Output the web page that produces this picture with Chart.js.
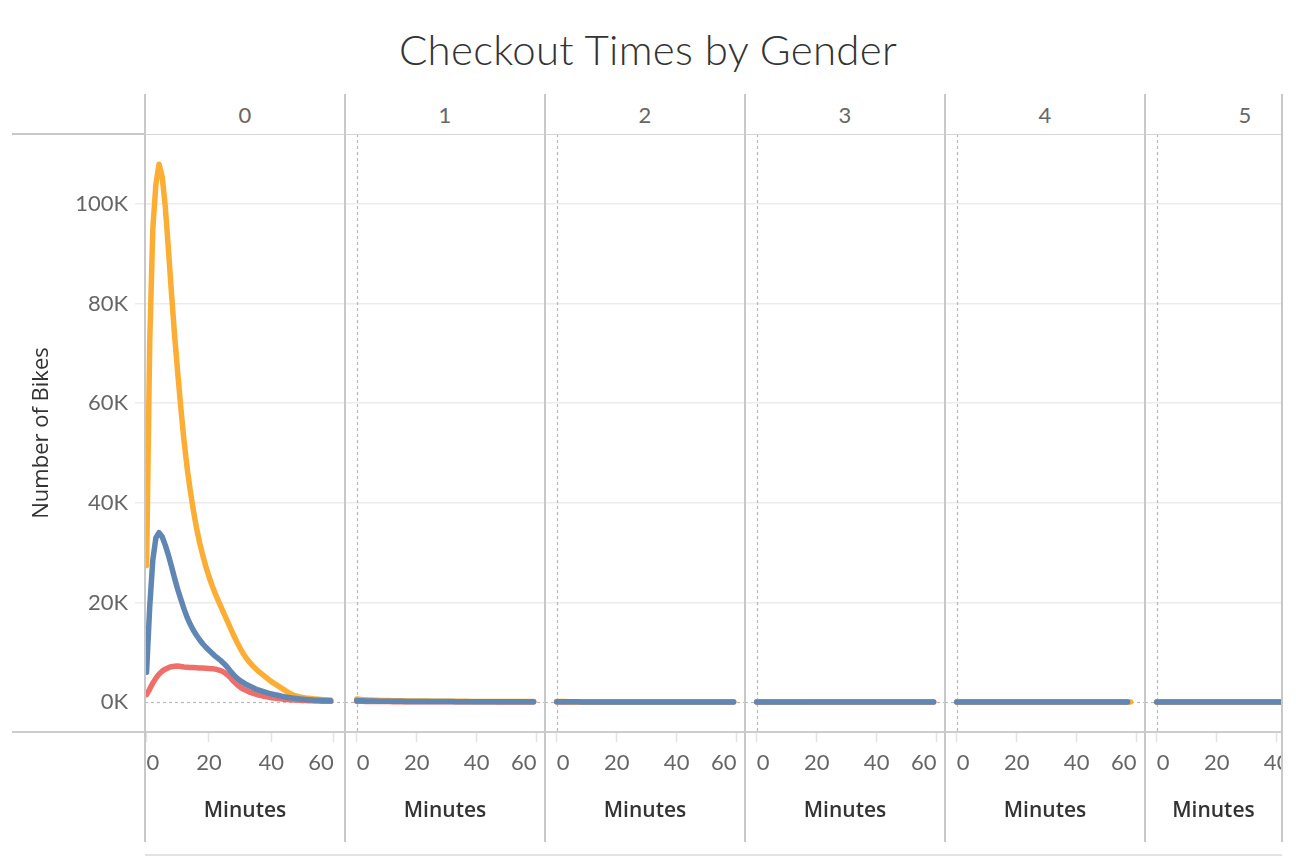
<!DOCTYPE html>
<html>
<head>
<meta charset="utf-8">
<script src="https://cdn.jsdelivr.net/npm/chart.js@4.4.1/dist/chart.umd.min.js"></script>
<style>
  html, body { margin:0; padding:0; width:1296px; height:856px; overflow:hidden; background:#fff; }
  body { position:relative; font-family: Lato, "Open Sans", sans-serif; }
  .abs { position:absolute; }
  #title { position:absolute; left:0; width:1296px; top:22px; text-align:center; font-size:42px; color:#333; font-weight:300; line-height:54px; letter-spacing:0.3px; }
  .hdr { position:absolute; top:100px; width:200px; text-align:center; font-size:22px; color:#666; line-height:30px; }
  .xt { position:absolute; top:794px; text-align:center; font-family:"Open Sans", Lato, sans-serif; font-size:21px; font-weight:600; color:#333; line-height:30px; }
  .line { position:absolute; z-index:5; }
</style>
</head>
<body>
<div id="title"></div>
<div id="stage"></div>
<script>
// ---------- text ----------
const chartTitle = 'Checkout Times by Gender';
const yAxisTitle = 'Number of Bikes';
const xAxisTitle = 'Minutes';
const hourLabels = ['0', '1', '2', '3', '4', '5'];
const seriesNames = ['Female', 'Male', 'Unknown'];

// ---------- axes ----------
const minutes = [0,1,2,3,4,5,6,7,8,9,10,11,12,13,14,15,16,17,18,19,20,21,22,23,24,25,26,27,28,29,
                 30,31,32,33,34,35,36,37,38,39,40,41,42,43,44,45,46,47,48,49,50,51,52,53,54,55,56,57,58,59];
const xTickValues = [0, 20, 40, 60];
const yTickValues = [0, 20000, 40000, 60000, 80000, 100000];

// ---------- hour 0 ----------
const male0 = [27400,72000,95000,104000,108000,105500,99500,91000,82000,73500,66000,59000,52500,47000,42500,38500,35000,32000,29500,27200,
  25200,23400,21800,20300,18900,17500,16100,14700,13300,12000,10800,9700,8800,8000,7300,6700,6100,5600,5100,4600,
  4100,3700,3300,2900,2500,2100,1700,1400,1200,1050,930,830,750,680,620,570,520,480,440,410];
const female0 = [6000,19000,28500,33000,34000,33200,31500,29500,27200,24800,22600,20600,18700,17000,15600,14400,13400,12500,11700,11000,
  10400,9800,9200,8700,8200,7600,6900,6100,5400,4800,4300,3900,3500,3200,2900,2600,2400,2200,2000,1800,
  1650,1500,1350,1200,1080,970,870,780,700,630,570,510,460,420,380,350,320,290,265,240];
const unknown0 = [1500,2600,3800,4800,5600,6200,6600,6900,7100,7200,7250,7150,7050,7000,6950,6950,6900,6850,6850,6800,
  6750,6700,6600,6450,6250,5900,5400,4800,4100,3500,3000,2600,2300,2000,1800,1600,1400,1250,1100,980,
  870,780,700,630,570,510,460,420,380,340,310,280,250,230,210,190,170,155,140,130];

// ---------- hour 1 ----------
const male1 = [620,540,480,440,410,385,365,345,330,315,300,288,276,265,255,246,237,229,221,214,207,200,194,188,183,178,173,168,164,160,
  156,152,148,145,141,138,135,132,129,126,123,121,118,116,113,111,109,107,105,103,101,99,97,95,93,92,90,88,87,85];
const female1 = [300,270,245,225,210,198,188,179,171,164,157,151,145,140,135,130,126,122,118,114,111,108,105,102,99,96,94,91,89,87,
  85,83,81,79,77,75,73,72,70,69,67,66,64,63,62,60,59,58,57,56,55,54,53,52,51,50,49,48,47,46];
const unknown1 = [160,145,133,123,115,108,102,97,92,88,84,80,77,74,71,68,66,63,61,59,57,55,53,52,50,49,47,46,45,44,
  43,42,41,40,39,38,37,36,35,35,34,33,32,32,31,30,30,29,28,28,27,27,26,26,25,25,24,24,23,23];

// ---------- hour 2 ----------
const male2 = [88,85,83,80,78,76,75,73,71,70,68,67,66,64,63,62,61,60,59,58,57,56,55,54,53,52,52,51,50,49,
  48,48,47,46,46,45,44,44,43,42,42,41,41,40,40,39,39,38,38,37,37,36,36,35,35,34,34,34,33,33];
const female2 = [36,35,34,33,32,31,31,30,29,29,28,27,27,26,26,25,25,24,24,23,23,22,22,22,21,21,20,20,20,19,
  19,19,18,18,18,17,17,17,16,16,16,16,15,15,15,15,14,14,14,14,13,13,13,13,13,12,12,12,12,12];
const unknown2 = [20,19,19,18,18,17,17,16,16,16,15,15,15,14,14,14,13,13,13,13,12,12,12,12,11,11,11,11,11,10,
  10,10,10,10,10,9,9,9,9,9,9,8,8,8,8,8,8,8,7,7,7,7,7,7,7,7,6,6,6,6];

// ---------- hour 3 ----------
const male3 = [40,39,38,37,36,36,35,34,34,33,32,32,31,31,30,30,29,29,28,28,27,27,27,26,26,25,25,25,24,24,
  24,23,23,23,22,22,22,21,21,21,21,20,20,20,19,19,19,19,18,18,18,18,17,17,17,17,17,16,16,16];
const female3 = [18,17,17,17,16,16,16,15,15,15,15,14,14,14,14,13,13,13,13,13,12,12,12,12,12,11,11,11,11,11,
  11,10,10,10,10,10,10,10,9,9,9,9,9,9,9,9,8,8,8,8,8,8,8,8,8,7,7,7,7,7];
const unknown3 = [10,10,10,9,9,9,9,9,8,8,8,8,8,8,7,7,7,7,7,7,7,6,6,6,6,6,6,6,6,6,
  5,5,5,5,5,5,5,5,5,5,5,4,4,4,4,4,4,4,4,4,4,4,4,4,3,3,3,3,3,3];

// ---------- hour 4 ----------
const male4 = [25,24,24,23,23,22,22,21,21,21,20,20,19,19,19,18,18,18,17,17,17,16,16,16,16,15,15,15,15,14,
  14,14,14,13,13,13,13,13,12,12,12,12,12,11,11,11,11,11,11,10,10,10,10,10,10,10,9,9,9];
const female4 = [11,11,11,10,10,10,10,10,9,9,9,9,9,9,8,8,8,8,8,8,8,7,7,7,7,7,7,7,7,6,
  6,6,6,6,6,6,6,6,6,5,5,5,5,5,5,5,5,5,5,5,5,4,4,4,4,4,4,4];
const unknown4 = [6,6,6,6,6,5,5,5,5,5,5,5,5,5,5,4,4,4,4,4,4,4,4,4,4,4,4,4,3,3,
  3,3,3,3,3,3,3,3,3,3,3,3,3,3,2,2,2,2,2,2,2,2,2,2,2,2,2,2];

// ---------- hour 5 ----------
const male5 = [18,18,17,17,17,16,16,16,15,15,15,15,14,14,14,14,13,13,13,13,13,12,12,12,12,12,11,11,11,11,
  11,11,10,10,10,10,10,10,10,9,9,9,9,9,9,9,9,9,8,8,8,8,8,8,8,8,8,8,7,7];
const female5 = [8,8,8,8,7,7,7,7,7,7,7,6,6,6,6,6,6,6,6,6,6,5,5,5,5,5,5,5,5,5,
  5,5,5,4,4,4,4,4,4,4,4,4,4,4,4,4,4,4,4,3,3,3,3,3,3,3,3,3,3,3];
const unknown5 = [5,5,5,4,4,4,4,4,4,4,4,4,4,4,3,3,3,3,3,3,3,3,3,3,3,3,3,3,3,3,
  2,2,2,2,2,2,2,2,2,2,2,2,2,2,2,2,2,2,2,2,2,2,2,2,2,2,1,1,1,1];

const maleByHour = [male0, male1, male2, male3, male4, male5];
const femaleByHour = [female0, female1, female2, female3, female4, female5];
const unknownByHour = [unknown0, unknown1, unknown2, unknown3, unknown4, unknown5];

// ---------- style ----------
const BLUE = '#6086B4', ORANGE = '#FCAE34', RED = '#EF6E6A';
const FONT = 'Lato, "Open Sans", sans-serif';
const FONT_WIDE = '"Open Sans", Lato, sans-serif';

document.getElementById('title').textContent = chartTitle;

const stage = document.getElementById('stage');
function addDiv(cls, css, text) {
  const d = document.createElement('div');
  d.className = cls;
  Object.assign(d.style, css);
  if (text !== undefined) d.textContent = text;
  stage.appendChild(d);
  return d;
}

const PANEL_W = 200, PANEL_X0 = 145, PLOT_TOP = 134, PLOT_H = 598, AXIS_H = 113, VIEW_RIGHT = 1282;

const zeroLines = {
  id: 'zeroLines',
  beforeDatasetsDraw(chart, args, opts) {
    const {ctx, chartArea: a, scales: {x, y}} = chart;
    ctx.save();
    ctx.strokeStyle = '#b8b8b8';
    ctx.lineWidth = 1.2;
    ctx.setLineDash([3, 3]);
    const yy = Math.round(y.getPixelForValue(0)) + 0.5;
    ctx.beginPath(); ctx.moveTo(a.left, yy); ctx.lineTo(a.right, yy); ctx.stroke();
    if (opts.vertical) {
      const xx = Math.round(x.getPixelForValue(0)) + 0.5;
      ctx.beginPath(); ctx.moveTo(xx, a.top); ctx.lineTo(xx, a.bottom); ctx.stroke();
    }
    ctx.restore();
  }
};

function xy(arr) { return arr.map((v, i) => ({x: minutes[i], y: v})); }

hourLabels.forEach((lab, i) => {
  const first = i === 0;
  const clipped = i === hourLabels.length - 1;
  const left = first ? 0 : PANEL_X0 + PANEL_W * i;
  const w = first ? PANEL_X0 + PANEL_W : PANEL_W;
  const holder = addDiv('abs', {left: left + 'px', top: PLOT_TOP + 'px', width: (clipped ? VIEW_RIGHT - left : w) + 'px',
                                 height: (PLOT_H + AXIS_H) + 'px', overflow: 'hidden'});
  const cv = document.createElement('canvas');
  cv.width = w; cv.height = PLOT_H + AXIS_H;
  cv.style.width = w + 'px'; cv.style.height = (PLOT_H + AXIS_H) + 'px';
  holder.appendChild(cv);

  addDiv('hdr', {left: (PANEL_X0 + PANEL_W * i) + 'px'}, lab);
  if (clipped) {
    // the last pane is cut by the view; its axis title is centred on the visible part
    addDiv('xt', {left: left + 'px', width: (VIEW_RIGHT - left) + 'px'}, xAxisTitle);
  }

  const xRange = first ? [-0.5, 63.6] : [-3.9, 62.8];

  new Chart(cv, {
    type: 'line',
    data: {
      datasets: [
        {label: seriesNames[0], data: xy(femaleByHour[i]), borderColor: BLUE, order: 0},
        {label: seriesNames[1], data: xy(maleByHour[i]), borderColor: ORANGE, order: 1},
        {label: seriesNames[2], data: xy(unknownByHour[i]), borderColor: RED, order: 2}
      ]
    },
    options: {
      responsive: false, animation: false, devicePixelRatio: 1,
      layout: {padding: 0},
      elements: {
        point: {radius: 0, hoverRadius: 0},
        line: {borderWidth: 5.5, tension: 0, borderCapStyle: 'round', borderJoinStyle: 'round', fill: false}
      },
      plugins: {legend: {display: false}, tooltip: {enabled: false}, zeroLines: {vertical: !first}},
      scales: {
        x: {
          type: 'linear', min: xRange[0], max: xRange[1],
          afterBuildTicks: s => { s.ticks = xTickValues.map(v => ({value: v})); },
          afterFit: s => { s.height = AXIS_H; s.paddingLeft = 0; s.paddingRight = 0; },
          ticks: {align: 'inner', padding: 8, color: '#666', font: {family: FONT, size: 22}, maxRotation: 0, autoSkip: false},
          grid: {drawOnChartArea: false, drawTicks: true, tickLength: 10, tickColor: '#e3e3e3', tickWidth: 1.5},
          border: {display: false},
          title: {display: !clipped, text: xAxisTitle, color: '#333', font: {family: FONT_WIDE, size: 21, weight: '600'}, padding: {top: 0, bottom: 21}}
        },
        y: {
          min: -6020, max: 114060,
          afterBuildTicks: s => { s.ticks = yTickValues.map(v => ({value: v})); },
          afterFit: s => { s.width = first ? PANEL_X0 : 0; s.paddingTop = 0; s.paddingBottom = 0; },
          ticks: {display: first, padding: 7, color: '#666', font: {family: FONT, size: 22},
                  callback: v => (v / 1000) + 'K'},
          grid: {color: c => (c.tick && c.tick.value === 0) ? 'rgba(0,0,0,0)' : '#ececec', lineWidth: 1.5,
                 drawTicks: first, tickLength: 10},
          border: {display: false},
          title: {display: first, text: yAxisTitle, color: '#333', font: {family: FONT_WIDE, size: 22}, padding: {top: 29, bottom: 0}}
        }
      }
    },
    plugins: [zeroLines]
  });
});

// ---------- frame lines ----------
addDiv('line', {left: '12px', top: '133px', width: '133px', height: '2px', background: '#c8c8c8'});
addDiv('line', {left: '145px', top: '134px', width: '1137px', height: '1px', background: '#d6d6d6'});
addDiv('line', {left: '12px', top: '731px', width: '1270px', height: '2px', background: '#cdcdcd'});
addDiv('line', {left: '145px', top: '854px', width: '1137px', height: '2px', background: '#e3e3e3'});
[144, 344, 544, 744, 944, 1144, 1281].forEach(x => {
  addDiv('line', {left: x + 'px', top: '94px', width: '2px', height: '748px', background: '#c8c8c8'});
});
</script>
</body>
</html>
